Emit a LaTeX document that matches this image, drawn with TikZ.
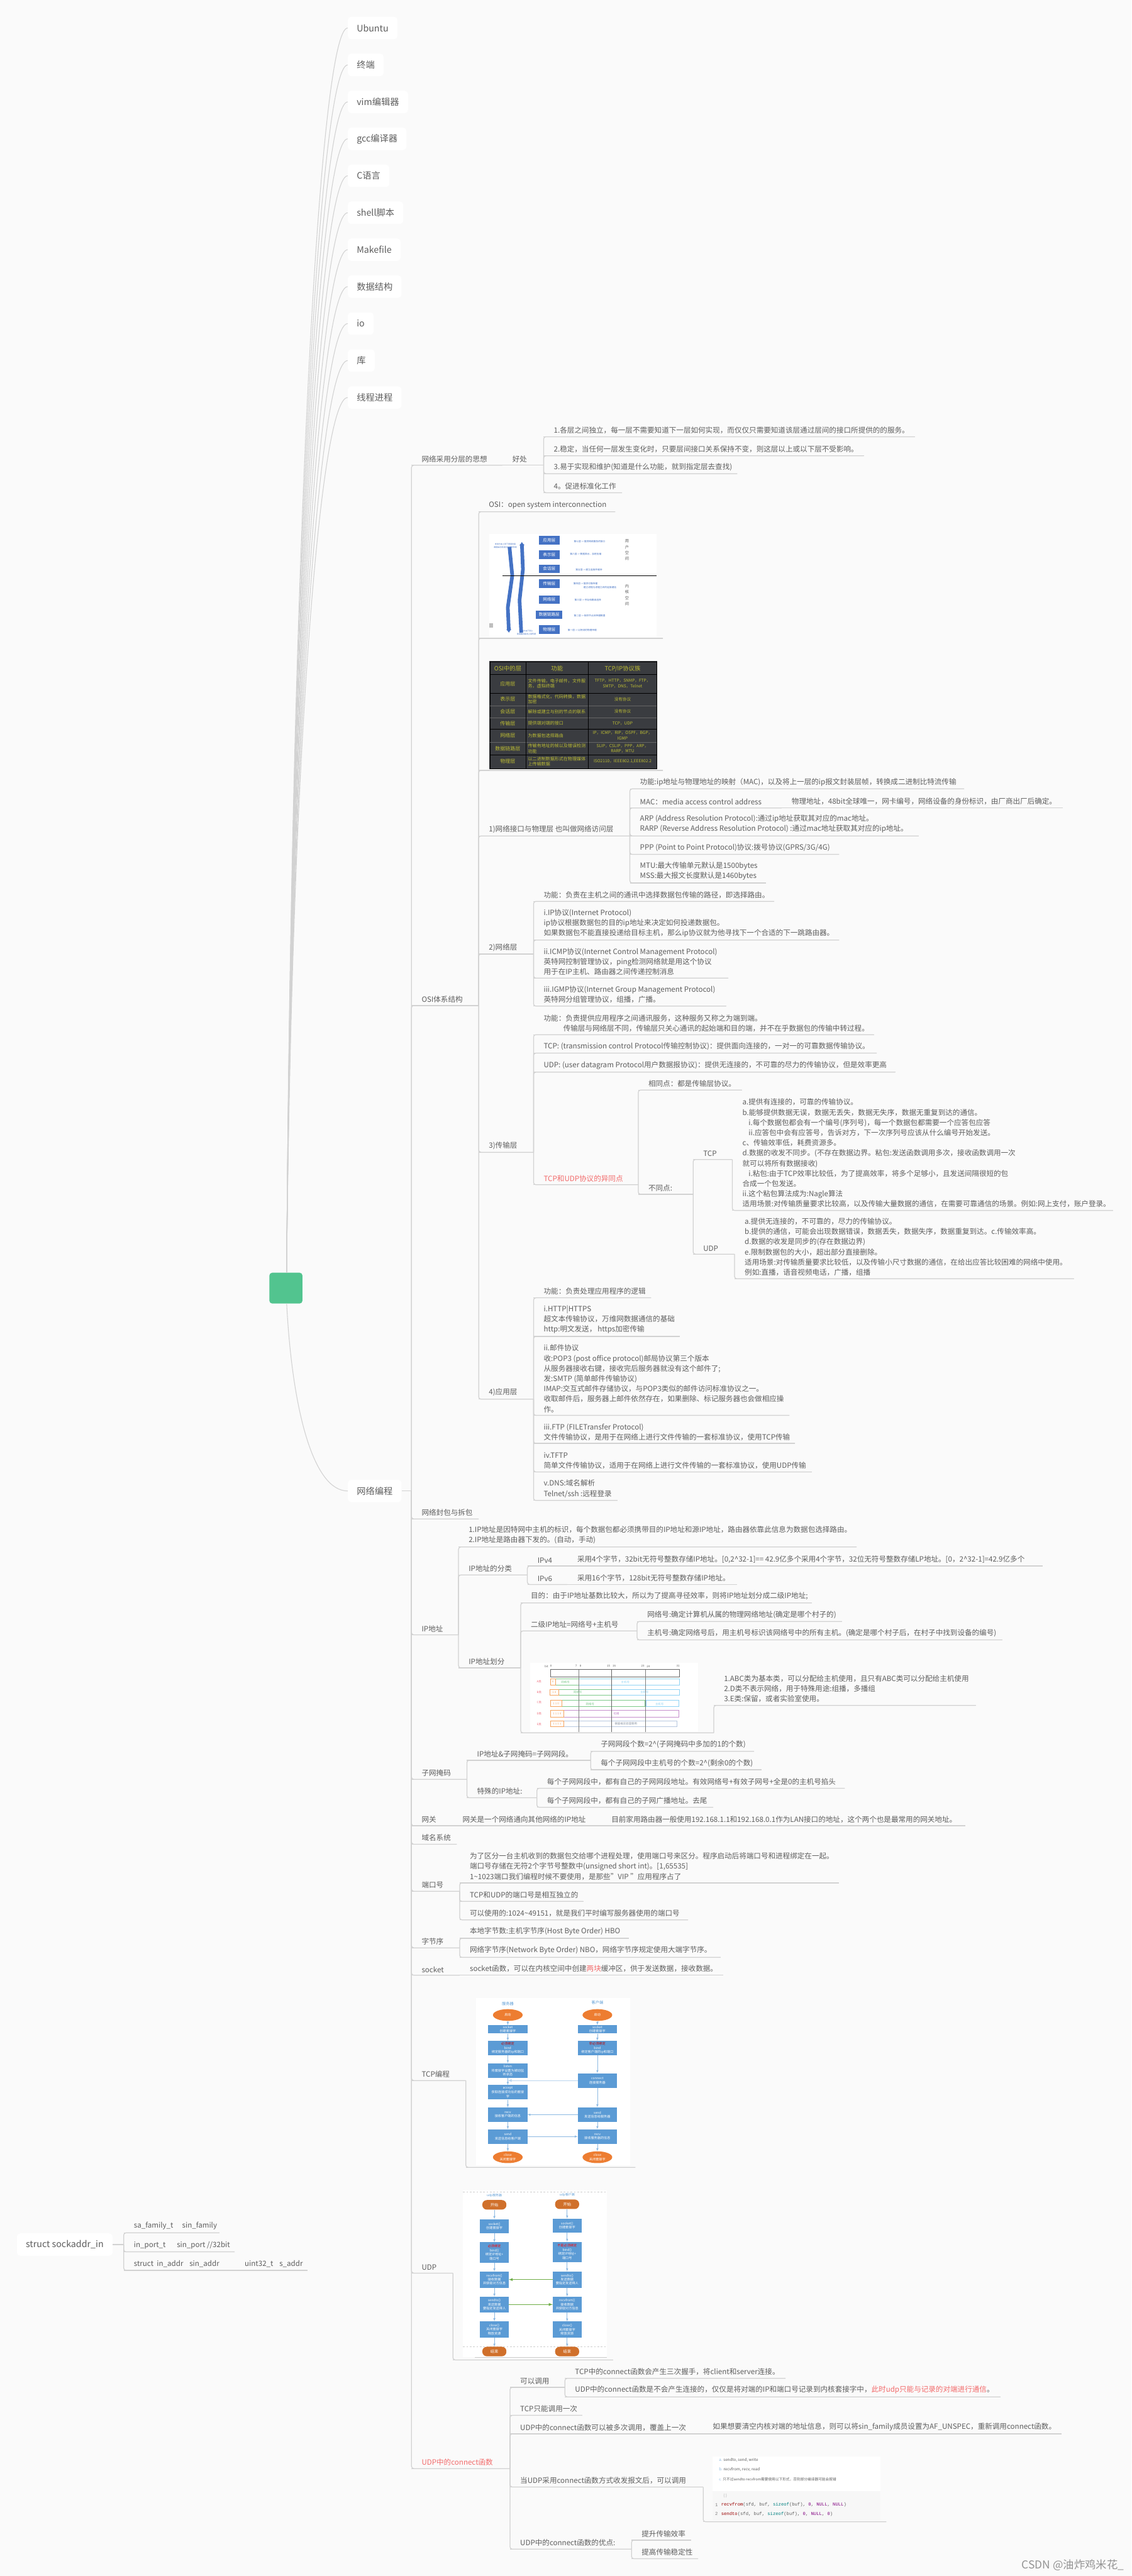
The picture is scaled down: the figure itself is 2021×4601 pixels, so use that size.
\documentclass[tikz,border=0pt]{standalone}
\usepackage{fontspec}
\usepackage{xcolor}
\setmainfont{Noto Sans CJK SC}
\newfontfamily\codefont{Liberation Mono}
\usetikzlibrary{arrows,arrows.meta,calc,shapes.geometric}

\definecolor{paper}{HTML}{FAFAFA}
\definecolor{rule}{HTML}{D2D2D2}
\definecolor{ink}{HTML}{5E5E5E}
\definecolor{alert}{HTML}{F26B6B}
\definecolor{rootgreen}{HTML}{52C48F}
\definecolor{layerblue}{HTML}{4472C4}
\definecolor{tablebg}{HTML}{3A3C40}
\definecolor{tableink}{HTML}{BDBD35}
\definecolor{flowblue}{HTML}{5B9BD5}
\definecolor{flowline}{HTML}{8DB9E2}
\definecolor{startorange}{HTML}{ED7D31}
\definecolor{udporange}{HTML}{D0702B}
\definecolor{udpgreen}{HTML}{70AD47}
\definecolor{netgreen}{HTML}{7CC98A}
\definecolor{hostblue}{HTML}{8FD3F4}
\definecolor{bitorange}{HTML}{F4A460}
\definecolor{groupviolet}{HTML}{C58FCC}
\definecolor{spareblue}{HTML}{B8C8E0}
\definecolor{classred}{HTML}{F0707F}

\newcommand{\sz}[2]{\fontsize{#1}{#2}\selectfont}

\tikzset{
	topic/.style={anchor=south west, inner xsep=18pt, inner ysep=5pt, align=left, text=ink, font=\sz{13}{18.2}},
	branch/.style={draw=rule, line width=1.4pt, rounded corners=4pt},
	trunk/.style={draw=rule, line width=1.2pt},
	leafbox/.style={anchor=west, fill=white, rounded corners=6pt, minimum height=40pt, inner xsep=16pt, inner ysep=0pt, text=ink, font=\sz{16}{20}},
	flowbox/.style={fill=flowblue, text=white, align=center, inner sep=0pt, minimum width=70pt, font=\sz{5.8}{7.4}},
	flowoval/.style={flowbox, fill=startorange, shape=ellipse, minimum width=53pt, minimum height=21pt},
	udpbox/.style={flowbox, minimum width=51pt, font=\sz{5.8}{7.2}},
	udpend/.style={flowbox, fill=udporange, minimum width=43pt, minimum height=17pt, rounded corners=8pt, font=\sz{7}{8}},
	flowarrow/.style={-latex, draw=flowline, line width=.8pt},
	layerarrow/.style={-{Latex[length=6pt,width=10pt]}, draw=layerblue, line width=6.5pt},
	layerbox/.style={fill=layerblue, text=white, minimum height=15.5pt, minimum width=37pt, inner sep=0pt, font=\sz{7.4}{8}},
	layernote/.style={anchor=west, inner sep=0pt, text=layerblue, font=\sz{4.2}{5}},
	layerside/.style={inner sep=0pt, text=ink, align=center, font=\sz{7}{10.6}},
	cellhead/.style={inner sep=0pt, text=tableink, font=\sz{10.5}{11}},
	cellone/.style={inner sep=0pt, text=tableink, font=\sz{9}{10}},
	celltwo/.style={anchor=west, inner sep=0pt, align=left, text=tableink, font=\sz{7.9}{9.6}},
	cellthree/.style={inner sep=0pt, align=center, text=tableink, font=\sz{7.4}{9.6}},
	bitnum/.style={inner sep=0pt, text=ink, font=\sz{5}{6}},
	classname/.style={inner sep=0pt, text=classred, font=\sz{5}{6}},
	codeline/.style={anchor=west, inner sep=0pt, text=ink, font=\codefont\sz{8.1}{9}},
	noteline/.style={anchor=west, inner sep=0pt, text=ink, font=\sz{7}{8}},
}

% one branch of the map: text above a rule that runs from x0 to x1
\newcommand{\topic}[6][]{%
	\node[topic,#1] (#2) at (#3,#5) {#6};
	\coordinate (#2-end) at (#4,#5);
	\draw[branch] (#2.south west) -- (#2-end);
}

\begin{document}
\begin{tikzpicture}[x=1pt,y=-1pt]

	% Draw the page
	\fill[paper] (0,0) rectangle (2021,4601);
	\useasboundingbox (0,0) rectangle (2021,4601);

	% Draw the root and the first column
	\node[fill=rootgreen, rounded corners=5pt, minimum width=59pt, minimum height=55pt, inner sep=0pt, anchor=north west] (root) at (481,2273) {};
	\coordinate (rootup) at (512,2273);
	\coordinate (rootdown) at (512,2328);
	\node[leafbox] (ubuntu) at (621,50) {Ubuntu};
	\node[leafbox] (shell) at (621,116) {终端};
	\node[leafbox] (vim) at (621,182) {vim编辑器};
	\node[leafbox] (gcc) at (621,248) {gcc编译器};
	\node[leafbox] (clang) at (621,314) {C语言};
	\node[leafbox] (script) at (621,380) {shell脚本};
	\node[leafbox] (makefile) at (621,446) {Makefile};
	\node[leafbox] (datastruct) at (621,512) {数据结构};
	\node[leafbox] (io) at (621,578) {io};
	\node[leafbox] (lib) at (621,644) {库};
	\node[leafbox] (thread) at (621,710) {线程进程};
	\node[leafbox] (net) at (621,2663) {网络编程};

	\draw[trunk] (rootup) .. controls (520,1006) and (570,50) .. (ubuntu.west);
	\draw[trunk] (rootup) .. controls (520,1043) and (570,116) .. (shell.west);
	\draw[trunk] (rootup) .. controls (520,1081) and (570,182) .. (vim.west);
	\draw[trunk] (rootup) .. controls (520,1119) and (570,248) .. (gcc.west);
	\draw[trunk] (rootup) .. controls (520,1156) and (570,314) .. (clang.west);
	\draw[trunk] (rootup) .. controls (520,1194) and (570,380) .. (script.west);
	\draw[trunk] (rootup) .. controls (520,1232) and (570,446) .. (makefile.west);
	\draw[trunk] (rootup) .. controls (520,1269) and (570,512) .. (datastruct.west);
	\draw[trunk] (rootup) .. controls (520,1307) and (570,578) .. (io.west);
	\draw[trunk] (rootup) .. controls (520,1345) and (570,644) .. (lib.west);
	\draw[trunk] (rootup) .. controls (520,1382) and (570,710) .. (thread.west);
	\draw[trunk] (rootdown) .. controls (522,2520) and (560,2663) .. (net.west);

	% Draw the layering idea
	\topic{layered}{735}{897}{831}{网络采用分层的思想}
	\topic{benefit}{897}{971}{831}{好处}
	\topic{benefita}{971}{1634}{780}{1.各层之间独立，每一层不需要知道下一层如何实现，而仅仅只需要知道该层通过层间的接口所提供的的服务。}
	\topic{benefitb}{971}{1543}{814}{2.稳定，当任何一层发生变化时，只要层间接口关系保持不变，则这层以上或以下层不受影响。}
	\topic{benefitc}{971}{1317}{846}{3.易于实现和维护(知道是什么功能，就到指定层去查找)}
	\topic{benefitd}{971}{1111}{880}{4。促进标准化工作}

	% Draw the OSI branch
	\topic{osiarch}{735}{855}{1796}{OSI体系结构}
	\topic{osiname}{855}{1099}{914}{OSI：open system interconnection}
	\topic{osipicline}{855}{1184}{1140}{}
	\topic{tablepicline}{855}{1184}{1376}{}

	\topic{linklayer}{855}{1125}{1493}{1)网络接口与物理层 也叫做网络访问层}
	\topic{linkjob}{1125}{1722}{1409}{功能:ip地址与物理地址的映射（MAC)，以及将上一层的ip报文封装层帧，转换成二进制比特流传输}
	\topic{linkmac}{1125}{1396}{1443}{MAC：media access control address}
	\topic{linkmacnote}{1396}{1898}{1443}{物理地址，48bit全球唯一，网卡编号，网络设备的身份标识，由厂商出厂后确定。}
	\topic{linkarp}{1125}{1641}{1493}{ARP (Address Resolution Protocol):通过ip地址获取其对应的mac地址。\\RARP (Reverse Address Resolution Protocol) :通过mac地址获取其对应的ip地址。}
	\topic{linkppp}{1125}{1499}{1526}{PPP (Point to Point Protocol)协议:拨号协议(GPRS/3G/4G)}
	\topic{linkmtu}{1125}{1368}{1577}{MTU:最大传输单元默认是1500bytes\\MSS:最大报文长度默认是1460bytes}

	\topic{netlayer}{855}{953}{1704}{2)网络层}
	\topic{netjob}{953}{1383}{1610}{功能：负责在主机之间的通讯中选择数据包传输的路径，即选择路由。}
	\topic{netip}{953}{1499}{1679}{i.IP协议(Internet Protocol)\\ip协议根据数据包的目的ip地址来决定如何投递数据包。\\如果数据包不能直接投递给目标主机，那么ip协议就为他寻找下一个合适的下一跳路由器。}
	\topic{neticmp}{953}{1301}{1747}{ii.ICMP协议(Internet Control Management Protocol)\\英特网控制管理协议，ping检测网络就是用这个协议\\用于在IP主机、路由器之间传递控制消息}
	\topic{netigmp}{953}{1297}{1797}{iii.IGMP协议(Internet Group Management Protocol)\\英特网分组管理协议，组播，广播。}

	\topic{translayer}{855}{953}{2058}{3)传输层}
	\topic{transjob}{953}{1561}{1848}{功能：负责提供应用程序之间通讯服务，这种服务又称之为端到端。\\\hspace*{35pt}传输层与网络层不同，传输层只关心通讯的起始端和目的端，并不在乎数据包的传输中转过程。}
	\topic{transtcp}{953}{1566}{1881}{TCP: (transmission control Protocol传输控制协议)：提供面向连接的，一对一的可靠数据传输协议。}
	\topic{transudp}{953}{1599}{1915}{UDP: (user datagram Protocol用户数据报协议)：提供无连接的，不可靠的尽力的传输协议，但是效率更高}
	\topic[text=alert]{compare}{953}{1140}{2116}{TCP和UDP协议的异同点}
	\topic{same}{1140}{1325}{1947}{相同点：都是传输层协议。}
	\topic{differ}{1140}{1238}{2133}{不同点:}
	\topic{differtcp}{1238}{1308}{2071}{TCP}
	\topic{tcpnotes}{1308}{1988}{2162}{a.提供有连接的，可靠的传输协议。\\b.能够提供数据无误，数据无丢失，数据无失序，数据无重复到达的通信。\\\hspace*{11pt}i.每个数据包都会有一个编号(序列号)，每一个数据包都需要一个应答包应答\\\hspace*{11pt}ii.应答包中会有应答号，告诉对方，下一次序列号应该从什么编号开始发送。\\c、传输效率低，耗费资源多。\\d.数据的收发不同步。(不存在数据边界。粘包:发送函数调用多次，接收函数调用一次\\就可以将所有数据接收)\\\hspace*{11pt}i.粘包:由于TCP效率比较低，为了提高效率，将多个足够小，且发送间隔很短的包\\合成一个包发送。\\ii.这个粘包算法成为:Nagle算法\\适用场景:对传输质量要求比较高，以及传输大量数据的通信，在需要可靠通信的场景。例如:网上支付，账户登录。}
	\topic{differudp}{1238}{1312}{2240}{UDP}
	\topic{udpnotes}{1312}{1918}{2284}{a.提供无连接的，不可靠的，尽力的传输协议。\\b.提供的通信，可能会出现数据错误，数据丢失，数据失序，数据重复到达。c.传输效率高。\\d.数据的收发是同步的(存在数据边界)\\e.限制数据包的大小，超出部分直接删除。\\适用场景:对传输质量要求比较低，以及传输小尺寸数据的通信，在给出应答比较困难的网络中使用。\\例如:直播，语音视频电话，广播，组播}

	\topic{applayer}{855}{953}{2499}{4)应用层}
	\topic{appjob}{953}{1163}{2318}{功能：负责处理应用程序的逻辑}
	\topic{apphttp}{953}{1214}{2387}{i.HTTP|HTTPS\\超文本传输协议，万维网数据通信的基础\\http:明文发送，\,https加密传输}
	\topic{appmail}{953}{1410}{2528}{ii.邮件协议\\收:POP3 (post office protocol)邮局协议第三个版本\\从服务器接收右键，接收完后服务器就没有这个邮件了;\\发:SMTP (简单邮件传输协议)\\IMAP:交互式邮件存储协议，与POP3类似的邮件访问标准协议之一。\\收取邮件后，服务器上邮件依然存在，如果删除、标记服务器也会做相应操\\作。}
	\topic{appftp}{953}{1420}{2578}{iii.FTP (FILETransfer Protocol)\\文件传输协议，是用于在网络上进行文件传输的一套标准协议，使用TCP传输}
	\topic{apptftp}{953}{1450}{2629}{iv.TFTP\\简单文件传输协议，适用于在网络上进行文件传输的一套标准协议，使用UDP传输}
	\topic{appdns}{953}{1103}{2680}{v.DNS:域名解析\\Telnet/ssh :远程登录}

	% Draw the address branches
	\topic{pack}{735}{855}{2713}{网络封包与拆包}
	\topic{ipaddr}{735}{819}{2920}{IP地址}
	\topic{ipnote}{819}{1530}{2763}{1.IP地址是因特网中主机的标识，每个数据包都必须携带目的IP地址和源IP地址，路由器依靠此信息为数据包选择路由。\\2.IP地址是路由器下发的。(自动，手动)}
	\topic{ipkind}{819}{942}{2813}{IP地址的分类}
	\topic{ipfour}{942}{1013}{2797}{IPv4}
	\topic{ipfournote}{1013}{1862}{2797}{采用4个字节，32bit无符号整数存储IP地址。[0,2\^{}32-1]== 42.9亿多个采用4个字节，32位无符号整数存储LP地址。[0，2\^{}32-1]=42.9亿多个}
	\topic{ipsix}{942}{1013}{2830}{IPv6}
	\topic{ipsixnote}{1013}{1316}{2830}{采用16个字节，128bit无符号整数存储IP地址。}
	\topic{ipsplit}{819}{930}{2979}{IP地址划分}
	\topic{ipaim}{930}{1450}{2863}{目的：由于IP地址基数比较大，所以为了提高寻径效率，则将IP地址划分成二级IP地址;}
	\topic{iptwo}{930}{1138}{2913}{二级IP地址=网络号+主机号}
	\topic{ipnetno}{1138}{1504}{2896}{网络号:确定计算机从属的物理网络地址(确定是哪个村子的)}
	\topic{iphostno}{1138}{1790}{2929}{主机号:确定网络号后，用主机号标识该网络号中的所有主机。(确定是哪个村子后，在村子中找到设备的编号)}
	\topic{classpicline}{930}{1275}{3095}{}
	\topic{classnote}{1275}{1743}{3046}{1.ABC类为基本类，可以分配给主机使用，且只有ABC类可以分配给主机使用\\2.D类不表示网络，用于特殊用途:组播，多播组\\3.E类:保留，或者实验室使用。}

	\topic{subnet}{735}{834}{3178}{子网掩码}
	\topic{subnetand}{834}{1055}{3144}{IP地址\&子网掩码=子网网段。}
	\topic{subnetcount}{1055}{1347}{3128}{子网网段个数=2\^{}(子网掩码中多加的1的个数)}
	\topic{subnethosts}{1055}{1360}{3161}{每个子网网段中主机号的个数=2\^{}(剩余0的个数)}
	\topic{subnetspecial}{834}{959}{3211}{特殊的IP地址:}
	\topic{subnethead}{959}{1509}{3194}{每个子网网段中，都有自己的子网网段地址。有效网络号+有效子网号+全是0的主机号掐头}
	\topic{subnettail}{959}{1274}{3228}{每个子网网段中，都有自己的子网广播地址。去尾}

	\topic{gateway}{735}{808}{3261}{网关}
	\topic{gatewayip}{808}{1074}{3261}{网关是一个网络通向其他网络的IP地址}
	\topic{gatewayhome}{1074}{1724}{3261}{目前家用路由器一般使用192.168.1.1和192.168.0.1作为LAN接口的地址，这个两个也是最常用的网关地址。}
	\topic{dns}{735}{816}{3294}{域名系统}

	\topic{port}{735}{821}{3378}{端口号}
	\topic{portwhy}{821}{1498}{3363}{为了区分一台主机收到的数据包交给哪个进程处理，使用端口号来区分。程序启动后将端口号和进程绑定在一起。\\端口号存储在无符2个字节号整数中(unsigned short int)。[1,65535]\\1\~{}1023端口我们编程时候不要使用，是那些"VIP ”应用程序占了}
	\topic{portsplit}{821}{1042}{3396}{TCP和UDP的端口号是相互独立的}
	\topic{portuse}{821}{1229}{3429}{可以使用的:1024\~{}49151，就是我们平时编写服务器使用的端口号}
	\topic{order}{735}{821}{3479}{字节序}
	\topic{orderhost}{821}{1123}{3462}{本地字节数:主机字节序(Host Byte Order) HBO}
	\topic{ordernet}{821}{1287}{3496}{网络字节序(Network Byte Order) NBO，网络字节序规定使用大端字节序。}
	\topic{socket}{735}{821}{3528}{socket}
	\topic{socketfn}{821}{1292}{3528}{socket函数，可以在内核空间中创建{\color{alert}两块}缓冲区，供于发送数据，接收数据。}

	% Draw the programming branches
	\topic{tcpprog}{735}{832}{3716}{TCP编程}
	\topic{tcppicline}{832}{1135}{3871}{}
	\topic{udpprog}{735}{809}{4060}{UDP}
	\topic{udppicline}{809}{1095}{4215}{}

	\topic[text=alert]{connect}{735}{911}{4409}{UDP中的connect函数}
	\topic{callable}{911}{1009}{4264}{可以调用}
	\topic{calltcp}{1009}{1403}{4248}{TCP中的connect函数会产生三次握手，将client和server连接。}
	\topic{calludp}{1009}{1787}{4281}{UDP中的connect函数是不会产生连接的，仅仅是将对端的IP和端口号记录到内核套接字中，{\color{alert}此时udp只能与记录的对端进行通信}。}
	\topic{callonce}{911}{1040}{4314}{TCP只能调用一次}
	\topic{callmany}{911}{1255}{4347}{UDP中的connect函数可以被多次调用，覆盖上一次}
	\topic{callclear}{1255}{1896}{4347}{如果想要清空内核对端的地址信息，则可以将sin\_family成员设置为AF\_UNSPEC，重新调用connect函数。}
	\topic{callio}{911}{1256}{4442}{当UDP采用connect函数方式收发报文后，可以调用}
	\topic{codepicline}{1256}{1583}{4504}{}
	\topic{gain}{911}{1128}{4553}{UDP中的connect函数的优点:}
	\topic{gainspeed}{1128}{1234}{4537}{提升传输效率}
	\topic{gainsafe}{1128}{1247}{4570}{提高传输稳定性}

	% Draw the connectors
	\draw[branch] (net.east) -- (735,2663) coordinate (spine);
	\draw[branch] (spine) |- (layered-end);
	\draw[branch] (spine) |- (osiarch-end);
	\draw[branch] (spine) |- (pack-end);
	\draw[branch] (spine) |- (ipaddr-end);
	\draw[branch] (spine) |- (subnet-end);
	\draw[branch] (spine) |- (gateway-end);
	\draw[branch] (spine) |- (dns-end);
	\draw[branch] (spine) |- (port-end);
	\draw[branch] (spine) |- (order-end);
	\draw[branch] (spine) |- (socket-end);
	\draw[branch] (spine) |- (tcpprog-end);
	\draw[branch] (spine) |- (udpprog-end);
	\draw[branch] (spine) |- (connect-end);

	\draw[branch] (benefit-end) |- (benefita-end);
	\draw[branch] (benefit-end) |- (benefitb-end);
	\draw[branch] (benefit-end) |- (benefitc-end);
	\draw[branch] (benefit-end) |- (benefitd-end);

	\draw[branch] (osiarch-end) |- (osiname-end);
	\draw[branch] (osiarch-end) |- (osipicline-end);
	\draw[branch] (osiarch-end) |- (tablepicline-end);
	\draw[branch] (osiarch-end) |- (linklayer-end);
	\draw[branch] (osiarch-end) |- (netlayer-end);
	\draw[branch] (osiarch-end) |- (translayer-end);
	\draw[branch] (osiarch-end) |- (applayer-end);

	\draw[branch] (linklayer-end) |- (linkjob-end);
	\draw[branch] (linklayer-end) |- (linkmac-end);
	\draw[branch] (linklayer-end) |- (linkarp-end);
	\draw[branch] (linklayer-end) |- (linkppp-end);
	\draw[branch] (linklayer-end) |- (linkmtu-end);

	\draw[branch] (netlayer-end) |- (netjob-end);
	\draw[branch] (netlayer-end) |- (netip-end);
	\draw[branch] (netlayer-end) |- (neticmp-end);
	\draw[branch] (netlayer-end) |- (netigmp-end);

	\draw[branch] (translayer-end) |- (transjob-end);
	\draw[branch] (translayer-end) |- (transtcp-end);
	\draw[branch] (translayer-end) |- (transudp-end);
	\draw[branch] (translayer-end) |- (compare-end);
	\draw[branch] (compare-end) |- (same-end);
	\draw[branch] (compare-end) |- (differ-end);
	\draw[branch] (differ-end) |- (differtcp-end);
	\draw[branch] (differ-end) |- (differudp-end);
	\draw[branch] (differtcp-end) |- (tcpnotes-end);
	\draw[branch] (differudp-end) |- (udpnotes-end);

	\draw[branch] (applayer-end) |- (appjob-end);
	\draw[branch] (applayer-end) |- (apphttp-end);
	\draw[branch] (applayer-end) |- (appmail-end);
	\draw[branch] (applayer-end) |- (appftp-end);
	\draw[branch] (applayer-end) |- (apptftp-end);
	\draw[branch] (applayer-end) |- (appdns-end);

	\draw[branch] (ipaddr-end) |- (ipnote-end);
	\draw[branch] (ipaddr-end) |- (ipkind-end);
	\draw[branch] (ipaddr-end) |- (ipsplit-end);
	\draw[branch] (ipkind-end) |- (ipfour-end);
	\draw[branch] (ipkind-end) |- (ipsix-end);
	\draw[branch] (ipsplit-end) |- (ipaim-end);
	\draw[branch] (ipsplit-end) |- (iptwo-end);
	\draw[branch] (ipsplit-end) |- (classpicline-end);
	\draw[branch] (iptwo-end) |- (ipnetno-end);
	\draw[branch] (iptwo-end) |- (iphostno-end);
	\draw[branch] (classpicline-end) |- (classnote-end);

	\draw[branch] (subnet-end) |- (subnetand-end);
	\draw[branch] (subnet-end) |- (subnetspecial-end);
	\draw[branch] (subnetand-end) |- (subnetcount-end);
	\draw[branch] (subnetand-end) |- (subnethosts-end);
	\draw[branch] (subnetspecial-end) |- (subnethead-end);
	\draw[branch] (subnetspecial-end) |- (subnettail-end);

	\draw[branch] (port-end) |- (portwhy-end);
	\draw[branch] (port-end) |- (portsplit-end);
	\draw[branch] (port-end) |- (portuse-end);
	\draw[branch] (order-end) |- (orderhost-end);
	\draw[branch] (order-end) |- (ordernet-end);

	\draw[branch] (tcpprog-end) |- (tcppicline-end);
	\draw[branch] (udpprog-end) |- (udppicline-end);

	\draw[branch] (connect-end) |- (callable-end);
	\draw[branch] (connect-end) |- (callonce-end);
	\draw[branch] (connect-end) |- (callmany-end);
	\draw[branch] (connect-end) |- (callio-end);
	\draw[branch] (connect-end) |- (gain-end);
	\draw[branch] (callable-end) |- (calltcp-end);
	\draw[branch] (callable-end) |- (calludp-end);
	\draw[branch] (callio-end) |- (codepicline-end);
	\draw[branch] (gain-end) |- (gainspeed-end);
	\draw[branch] (gain-end) |- (gainsafe-end);

	% Draw the layer picture
	\fill[white] (874,954) rectangle (1173,1138);
	\fill[gray!50] (874,1113) rectangle (881,1121);
	\draw[layerarrow] (910,977) -- (915,1028) -- (907,1085) -- (909,1130);
	\draw[layerarrow] (931,1130) -- (928,1072) -- (934,1017) -- (932,968);
	\draw[black, line width=1.3pt] (898,1028) -- (1173,1028);
	\node[layerbox] (layapp) at (981,965) {应用层};
	\node[layerbox] (laypres) at (981,990.5) {表示层};
	\node[layerbox] (laysess) at (981,1016) {会话层};
	\node[layerbox] (laytrans) at (981,1042) {传输层};
	\node[layerbox] (laynet) at (981,1071) {网络层};
	\node[layerbox, minimum width=47pt] (laylink) at (981,1098) {数据链路层};
	\node[layerbox] (layphy) at (981,1124) {物理层};
	\node[layernote] (noteapp) at (1025,967) {第七层--> 提供网络服务的接口};
	\node[layernote] (notepres) at (1018,990) {第六层--> 数据表示、加密压缩};
	\node[layernote] (notesess) at (1028,1018) {第五层--> 建立连接并维持};
	\node[layernote] (notetrans) at (1024,1042) {第四层--> 提供可靠传输};
	\node[layernote] (notetransb) at (1042,1049) {建立进程与进程之间的连接通信};
	\node[layernote] (notenet) at (1026,1072) {第三层--> 寻址和路由选择};
	\node[layernote] (notelink) at (1025,1100) {第二层--> 相邻节点间传输数据};
	\node[layernote] (notephy) at (1014,1126) {第一层--> 比特流的物理传输};
	\node[layernote, align=center, font=\sz{3.4}{5}] (notesend) at (882,975) {发送方由上到下逐层封装\\数据由应用层向物理层传递};
	\node[layernote, align=center, font=\sz{3.4}{5}] (noterecv) at (923,1130) {接收方由下到上\\逐层解封装向上层传递};
	\node[layerside] (userspace) at (1120,982.5) {用\\户\\空\\间};
	\node[layerside] (kernelspace) at (1120,1063) {内\\核\\空\\间};

	% Draw the table picture
	\fill[tablebg] (874,1181) rectangle (1174,1374);
	\draw[black, line width=1pt] (875,1182) rectangle (1173,1373);
	\draw[black, line width=.7pt] (875,1204) -- (1173,1204);
	\draw[black, line width=.7pt] (875,1238) -- (1173,1238);
	\draw[black, line width=.7pt] (875,1302) -- (1173,1302);
	\draw[black, line width=.7pt] (875,1348) -- (1173,1348);
	\draw[gray!80!black, line width=.3pt] (875,1261) -- (1173,1261);
	\draw[gray!80!black, line width=.3pt] (875,1282) -- (1173,1282);
	\draw[gray!80!black, line width=.3pt] (875,1326) -- (1173,1326);
	\draw[black, line width=.5pt] (939,1182) -- (939,1373);
	\draw[black, line width=.5pt] (1050,1182) -- (1050,1373);
	\node[cellhead] (headosi) at (907,1194) {OSI中的层};
	\node[cellhead] (headjob) at (995,1194) {功能};
	\node[cellhead] (headtcp) at (1112,1194) {TCP/IP协议族};
	\node[cellone] (rowapp) at (907,1221) {应用层};
	\node[cellone] (rowpres) at (907,1249) {表示层};
	\node[cellone] (rowsess) at (907,1271) {会话层};
	\node[cellone] (rowtrans) at (907,1292) {传输层};
	\node[cellone] (rownet) at (907,1314) {网络层};
	\node[cellone] (rowlink) at (907,1337) {数据链路层};
	\node[cellone] (rowphy) at (907,1360) {物理层};
	\node[celltwo] (jobapp) at (943,1221) {文件传输，电子邮件，文件服\\务，虚拟终端};
	\node[celltwo] (jobpres) at (943,1249) {数据格式化，代码转换，数据\\加密};
	\node[celltwo] (jobsess) at (943,1271) {解除或建立与别的节点的联系};
	\node[celltwo] (jobtrans) at (943,1292) {提供端对端的接口};
	\node[celltwo] (jobnet) at (943,1314) {为数据包选择路由};
	\node[celltwo] (joblink) at (943,1337) {传输有地址的帧以及错误检测\\功能};
	\node[celltwo] (jobphy) at (943,1360) {以二进制数据形式在物理媒体\\上传输数据};
	\node[cellthree] (protoapp) at (1112,1221) {TFTP，HTTP，SNMP，FTP，\\SMTP，DNS，Telnet};
	\node[cellthree] (protopres) at (1112,1249) {没有协议};
	\node[cellthree] (protosess) at (1112,1271) {没有协议};
	\node[cellthree] (prototrans) at (1112,1292) {TCP，UDP};
	\node[cellthree] (protonet) at (1112,1314) {IP，ICMP，RIP，OSPF，BGP，\\IGMP};
	\node[cellthree] (protolink) at (1112,1337) {SLIP，CSLIP，PPP，ARP，\\RARP，MTU};
	\node[cellthree] (protophy) at (1112,1360) {ISO2110，IEEE802.1,EEE802.2};

	% Draw the address class picture
	\fill[white] (947,2970) rectangle (1247,3093);
	\node[bitnum] (bitword) at (976,2976) {bit};
	\node[bitnum] (bitzero) at (984,2976) {0};
	\node[bitnum] (bitseven) at (1029,2976) {7};
	\node[bitnum] (biteight) at (1037,2976) {8};
	\node[bitnum] (bitfifteen) at (1087,2976) {15};
	\node[bitnum] (bitsixteen) at (1097,2976) {16};
	\node[bitnum] (bittwothree) at (1148,2976) {23};
	\node[bitnum] (bittwofour) at (1158,2976) {24};
	\node[bitnum] (bitlast) at (1211,2976) {31};
	\draw[gray!80!black, line width=.8pt] (983,2982) rectangle (1213,2995);
	\draw[netgreen, line width=.8pt] (983,2998) rectangle (1034,3010);
	\draw[hostblue, line width=.8pt] (1034,2998) rectangle (1213,3010);
	\draw[bitorange, line width=.8pt] (983,2998) rectangle (992,3010);
	\draw[netgreen, line width=.8pt] (982,3017) rectangle (1092,3028);
	\draw[hostblue, line width=.8pt] (1092,3017) rectangle (1213,3028);
	\draw[bitorange, line width=.8pt] (982,3017) rectangle (998,3028);
	\draw[netgreen, line width=.8pt] (983,3037) rectangle (1152,3048);
	\draw[hostblue, line width=.8pt] (1154,3037) rectangle (1212,3048);
	\draw[bitorange, line width=.8pt] (983,3037) rectangle (1003,3048);
	\draw[groupviolet, line width=.8pt] (983,3055) rectangle (1212,3067);
	\draw[bitorange, line width=.8pt] (983,3055) rectangle (1007,3067);
	\draw[spareblue, line width=.8pt] (983,3074) rectangle (1209,3084);
	\draw[bitorange, line width=.8pt] (983,3074) rectangle (1007,3084);
	\draw[gray, line width=.8pt] (1034,2982) -- (1034,3093);
	\draw[gray!80!black, line width=.8pt] (1092,2982) -- (1092,3093);
	\draw[gray, line width=.8pt] (1153,2982) -- (1153,3093);
	\node[classname] (classa) at (963,3003) {A类};
	\node[classname] (classb) at (963,3022) {B类};
	\node[classname] (classc) at (963,3041) {C类};
	\node[classname] (classd) at (963,3061) {D类};
	\node[classname] (classe) at (963,3080) {E类};
	\node[bitnum, text=bitorange] (bitsa) at (987.5,3004) {0};
	\node[bitnum, text=bitorange] (bitsb) at (990,3022.5) {1 0};
	\node[bitnum, text=bitorange] (bitsc) at (993,3042.5) {1 1 0};
	\node[bitnum, text=bitorange] (bitsd) at (995,3061) {1 1 1 0};
	\node[bitnum, text=bitorange] (bitse) at (995,3079) {1 1 1 1};
	\node[bitnum, text=netgreen] (neta) at (1010,3004) {网络号};
	\node[bitnum, text=netgreen] (netb) at (1032,3023) {网络号};
	\node[bitnum, text=netgreen] (netc) at (1054,3044) {网络号};
	\node[bitnum, text=hostblue] (hosta) at (1117,3004) {主机号};
	\node[bitnum, text=hostblue] (hostb) at (1151,3023) {主机号};
	\node[bitnum, text=hostblue] (hostc) at (1178,3044) {主机号};
	\node[bitnum, text=groupviolet] (groupd) at (1101,3061) {组播};
	\node[bitnum, text=spareblue!70!black] (sparee) at (1118,3079) {保留或实验室使用};

	% Draw the TCP flow picture
	\fill[white] (850,3569) rectangle (1125,3868);
	\node[inner sep=0pt, text=flowblue, font=\sz{7}{8}] (tcpservertitle) at (907,3579) {服务器};
	\node[inner sep=0pt, text=flowblue, font=\sz{7}{8}] (tcpclienttitle) at (1067,3577) {客户端};
	\node[flowoval] (sstart) at (907,3599) {启动};
	\node[flowbox, minimum height=15pt] (ssocket) at (907,3624.5) {socket\\创建套接字};
	\node[flowbox, minimum height=26pt] (sbind) at (907,3658) {{\color{red!75!black}必须绑定}\\bind\\绑定服务器的ip和端口};
	\node[flowbox, minimum height=26pt] (slisten) at (907,3698) {listen\\将套接字设置为被动监\\听状态};
	\node[flowbox, minimum height=26pt] (saccept) at (907,3737) {accept\\获取连接成功后的套接\\字};
	\node[flowbox, minimum height=26pt] (srecv) at (907,3777) {recv\\接收客户端的信息};
	\node[flowbox, minimum height=26pt] (ssend) at (907,3816) {send\\发送信息给客户端};
	\node[flowoval] (sclose) at (907,3853) {close\\关闭套接字};
	\node[flowoval] (cstart) at (1067,3599) {启动};
	\node[flowbox, minimum height=15pt] (csocket) at (1067,3624.5) {socket\\创建套接字};
	\node[flowbox, minimum height=26pt] (cbind) at (1067,3658) {{\color{red!75!black}非必须绑定}\\bind\\绑定客户端的ip和端口};
	\node[flowbox, minimum height=26pt] (cconnect) at (1067,3716) {connect\\连接服务器};
	\node[flowbox, minimum height=26pt] (csend) at (1067,3777) {send\\发送信息给服务器};
	\node[flowbox, minimum height=26pt] (crecv) at (1067,3816) {recv\\接收服务器的信息};
	\node[flowoval] (cclose) at (1067,3853) {close\\关闭套接字};
	\coordinate (sjoin) at (907,3716);
	\draw[flowarrow] (sstart) -- (ssocket);
	\draw[flowarrow] (ssocket) -- (sbind);
	\draw[flowarrow] (sbind) -- (slisten);
	\draw[flowarrow] (slisten) -- (saccept);
	\draw[flowarrow] (saccept) -- (srecv);
	\draw[flowarrow] (srecv) -- (ssend);
	\draw[flowarrow] (ssend) -- (sclose);
	\draw[flowarrow] (cstart) -- (csocket);
	\draw[flowarrow] (csocket) -- (cbind);
	\draw[flowarrow] (cbind) -- (cconnect);
	\draw[flowarrow] (cconnect) -- (csend);
	\draw[flowarrow] (csend) -- (crecv);
	\draw[flowarrow] (crecv) -- (cclose);
	\draw[flowarrow, draw=flowline!60, line width=1.4pt] (cconnect.west) -- (sjoin);
	\draw[flowarrow] (csend) -- (srecv);
	\draw[flowarrow] (ssend) -- (crecv);

	% Draw the UDP flow picture
	\fill[white] (827,3912) rectangle (1084,4210);
	\draw[gray!40, dashed, line width=.4pt] (827,3915) -- (1084,3915);
	\draw[gray!40, dashed, line width=.4pt] (827,4191) -- (1084,4191);
	\draw[gray!40, line width=.4pt] (848,4210) -- (1084,4210);
	\node[inner sep=0pt, text=flowblue, font=\sz{5.5}{6}] (udpservertitle) at (883,3921) {udp服务器};
	\node[inner sep=0pt, text=flowblue, font=\sz{5.5}{6}] (udpclienttitle) at (1013,3920) {udp客户端};
	\node[udpend] (ustart) at (883,3938) {开始};
	\node[udpbox, minimum height=25pt] (usocket) at (883,3976) {socket()\\创建套接字};
	\node[udpbox, minimum height=36pt] (ubind) at (883,4023) {{\color{red}必须绑定}\\bind()\\绑定IP地址+\\端口号};
	\node[udpbox, minimum height=29pt] (urecv) at (883,4071.5) {recvfrom()\\接收数据\\并获取对方信息};
	\node[udpbox, minimum height=28pt] (usend) at (883,4116) {sendto()\\发送数据\\要指定发送得人};
	\node[udpbox, minimum height=29pt] (uclose) at (883,4160.5) {close()\\关闭套接字\\释放资源};
	\node[udpend] (uend) at (883,4200) {结束};
	\node[udpend] (vstart) at (1013,3937) {开始};
	\node[udpbox, minimum height=25pt] (vsocket) at (1013,3975) {socket()\\创建套接字};
	\node[udpbox, minimum height=36pt] (vbind) at (1013,4022) {{\color{red}不是必须绑定}\\bind()\\绑定IP地址+\\端口号};
	\node[udpbox, minimum height=29pt] (vsend) at (1013,4071.5) {sendto()\\发送数据\\要指定发送得人};
	\node[udpbox, minimum height=28pt] (vrecv) at (1013,4116) {recvfrom()\\接收数据\\并获取对方信息};
	\node[udpbox, minimum height=29pt] (vclose) at (1013,4161) {close()\\关闭套接字\\释放资源};
	\node[udpend] (vend) at (1013,4200) {结束};
	\draw[flowarrow] (ustart) -- (usocket);
	\draw[flowarrow] (usocket) -- (ubind);
	\draw[flowarrow] (ubind) -- (urecv);
	\draw[flowarrow] (urecv) -- (usend);
	\draw[flowarrow] (usend) -- (uclose);
	\draw[flowarrow] (uclose) -- (uend);
	\draw[flowarrow] (vstart) -- (vsocket);
	\draw[flowarrow] (vsocket) -- (vbind);
	\draw[flowarrow] (vbind) -- (vsend);
	\draw[flowarrow] (vsend) -- (vrecv);
	\draw[flowarrow] (vrecv) -- (vclose);
	\draw[flowarrow] (vclose) -- (vend);
	\draw[-latex, udpgreen, line width=1.4pt] (vsend.west) -- (urecv.east);
	\draw[-latex, udpgreen, line width=1.4pt] (usend.east) -- (vrecv.west);

	% Draw the code picture
	\fill[white] (1273,4388) rectangle (1573,4449);
	\fill[black!3] (1273,4449) rectangle (1573,4502);
	\node[noteline] (codea) at (1284,4394) {{\color{flowline}a.} sendto, send, write};
	\node[noteline] (codeb) at (1284,4411) {{\color{flowline}b.} recvfrom, recv, read};
	\node[noteline, font=\sz{6.4}{8}] (codec) at (1284,4428) {{\color{flowline}c.} 只不过sendto recvfrom需要使用以下形式，否则部分编译器可能会报错};
	\node[noteline, text=gray!60] (codeicon) at (1292,4458) {\{ \}};
	\node[codeline, text=gray] (numone) at (1277,4474) {1};
	\node[codeline, text=gray] (numtwo) at (1277,4490) {2};
	\node[codeline] (coderecv) at (1288,4474) {{\color{red!60!black}recvfrom}(sfd, buf, {\color{teal}sizeof}(buf), {\color{violet}0}, {\color{violet}NULL}, {\color{violet}NULL})};
	\node[codeline] (codesend) at (1288,4490) {{\color{red!60!black}sendto}(sfd, buf, {\color{teal}sizeof}(buf), {\color{violet}0}, {\color{violet}NULL}, {\color{violet}0})};

	% Draw the loose struct on the left
	\node[fill=white, rounded corners=6pt, minimum height=40pt, inner xsep=16pt, inner ysep=0pt, text=ink, anchor=west, font=\sz{16}{20}] (sockaddr) at (30,4009) {struct sockaddr\_in};
	\topic{sockfamily}{221}{392}{3988}{sa\_family\_t\hspace{16pt}sin\_family}
	\topic{sockport}{221}{419}{4022}{in\_port\_t\hspace{20pt}sin\_port //32bit}
	\topic{sockin}{221}{419}{4055}{struct\hspace{6pt}in\_addr\hspace{11pt}sin\_addr}
	\topic{sockaddrval}{419}{549}{4055}{uint32\_t\hspace{11pt}s\_addr}
	\draw[branch] (sockaddr.east) -- (221,4009) coordinate (sockjoin);
	\draw[branch] (sockjoin) |- (sockfamily-end);
	\draw[branch] (sockjoin) |- (sockport-end);
	\draw[branch] (sockjoin) |- (sockin-end);

	% Draw the mark in the corner
	\node[anchor=west, inner sep=0pt, text=gray!85, font=\sz{19.5}{22}] (csdn) at (1825,4582) {CSDN @油炸鸡米花\_};

\end{tikzpicture}
\end{document}
